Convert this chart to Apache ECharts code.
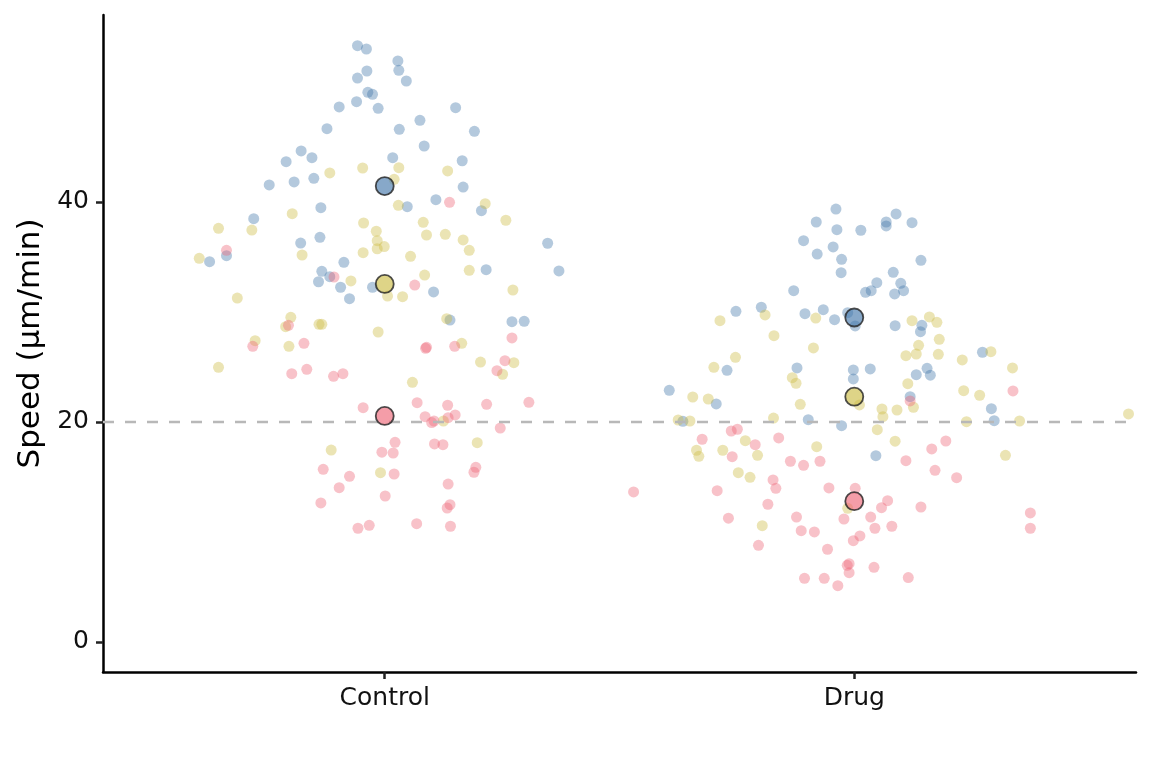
<!DOCTYPE html>
<html>
<head>
<meta charset="utf-8">
<script src="https://cdn.jsdelivr.net/npm/echarts@6/dist/echarts.min.js"></script>
<style>html,body{margin:0;padding:0;background:#fff}#c{width:1152px;height:768px}</style>
</head>
<body>
<div id="c"></div>
<script>
const categories = ['Control', 'Drug'];
const yTicks = [0, 20, 40];
const refLine = 20;

// [jittered x position, speed]
const controlBlue = [[0.942,54.21],[0.961,53.91],[0.962,51.91],[0.942,51.27],[0.964,49.97],[0.974,49.79],[0.940,49.12],[0.903,48.64],[0.986,48.52],[0.877,46.66],[0.822,44.64],[0.845,44.03],[0.790,43.66],[0.807,41.82],[0.849,42.15],[0.754,41.55],[0.864,39.48],[0.721,38.48],[0.821,36.27],[0.862,36.79],[0.663,35.12],[0.627,34.57],[0.913,34.52],[0.866,33.70],[0.883,33.21],[0.859,32.75],[0.906,32.25],[0.974,32.25],[0.925,31.21],[1.028,52.82],[1.030,51.97],[1.046,51.0],[1.151,48.57],[1.075,47.43],[1.031,46.61],[1.191,46.43],[1.084,45.09],[1.017,44.03],[1.165,43.75],[1.167,41.36],[1.048,39.57],[1.109,40.21],[1.206,39.21],[1.347,36.25],[1.371,33.73],[1.216,33.85],[1.104,31.82],[1.139,29.27],[1.271,29.12],[1.297,29.15]];
const controlYellow = [[0.953,43.09],[0.883,42.64],[0.803,38.94],[0.646,37.61],[0.717,37.45],[0.955,38.09],[0.982,37.34],[0.984,36.48],[0.984,35.75],[0.999,35.95],[0.954,35.39],[0.605,34.88],[0.824,35.18],[0.928,32.82],[1.030,43.12],[1.020,42.06],[1.134,42.82],[1.029,39.7],[1.214,39.85],[1.258,38.34],[1.082,38.15],[1.089,37.0],[1.129,37.06],[1.167,36.55],[1.180,35.61],[1.055,35.06],[1.180,33.79],[1.085,33.36],[1.273,32.0],[0.686,31.27],[0.800,29.52],[0.789,28.66],[0.860,28.88],[0.866,28.88],[0.986,28.18],[0.724,27.39],[0.796,26.88],[0.646,24.97],[0.886,17.45],[0.991,15.39],[1.006,31.45],[1.038,31.39],[1.132,29.39],[1.164,27.15],[1.204,25.45],[1.275,25.39],[1.251,24.34],[1.059,23.61],[1.125,20.09],[1.197,18.12]];
const controlRed = [[0.663,35.61],[0.892,33.18],[1.138,39.97],[1.064,32.45],[0.795,28.79],[0.719,26.88],[0.828,27.15],[0.802,24.39],[0.834,24.79],[0.891,24.15],[0.911,24.39],[0.954,21.3],[0.869,15.7],[0.925,15.06],[0.903,14.03],[0.864,12.64],[0.943,10.34],[0.967,10.61],[0.994,17.25],[1.001,13.27],[1.271,27.64],[1.087,26.7],[1.089,26.79],[1.149,26.88],[1.256,25.57],[1.239,24.66],[1.069,21.75],[1.134,21.52],[1.217,21.61],[1.307,21.79],[1.086,20.48],[1.100,19.95],[1.105,20.09],[1.135,20.39],[1.150,20.64],[1.246,19.45],[1.022,18.15],[1.018,17.18],[1.106,18.0],[1.124,17.94],[1.020,15.27],[1.194,15.88],[1.190,15.43],[1.135,14.36],[1.139,12.48],[1.133,12.18],[1.068,10.75],[1.140,10.52]];
const drugBlue = [[1.961,39.36],[1.919,38.18],[1.963,37.48],[1.892,36.48],[1.955,35.91],[1.921,35.27],[1.973,34.79],[1.972,33.57],[1.871,31.94],[1.748,30.06],[1.802,30.43],[1.895,29.85],[1.934,30.21],[1.958,29.3],[1.986,29.94],[1.729,24.7],[1.878,24.91],[1.998,24.73],[1.998,23.91],[1.606,22.88],[1.706,21.64],[1.902,20.21],[1.635,20.06],[1.973,19.66],[2.014,37.43],[2.068,38.18],[2.068,37.82],[2.089,38.91],[2.123,38.12],[2.142,34.7],[2.083,33.61],[2.048,32.66],[2.036,31.94],[2.024,31.79],[2.099,32.61],[2.105,31.94],[2.086,31.64],[2.002,28.73],[2.087,28.75],[2.144,28.79],[2.141,28.21],[2.273,26.34],[2.034,24.82],[2.155,24.88],[2.162,24.25],[2.132,24.3],[2.119,22.3],[2.292,21.21],[2.298,20.12],[2.046,16.94]];
const drugYellow = [[1.810,29.73],[1.918,29.45],[1.714,29.21],[1.829,27.85],[1.913,26.73],[1.747,25.88],[1.701,24.97],[1.868,24.03],[1.876,23.52],[1.656,22.27],[1.689,22.09],[1.885,21.61],[1.828,20.36],[1.625,20.18],[1.650,20.09],[1.768,18.3],[1.664,17.43],[1.669,16.88],[1.720,17.43],[1.794,16.97],[1.920,17.75],[1.753,15.39],[1.778,14.97],[1.804,10.57],[1.986,12.15],[2.123,29.21],[2.160,29.55],[2.176,29.06],[2.181,27.52],[2.137,26.97],[2.110,26.03],[2.132,26.18],[2.179,26.15],[2.230,25.64],[2.291,26.39],[2.337,24.91],[2.114,23.48],[2.233,22.85],[2.267,22.43],[2.126,21.34],[2.011,21.55],[2.059,21.18],[2.091,21.09],[2.061,20.48],[2.584,20.73],[2.239,20.03],[2.352,20.09],[2.049,19.3],[2.087,18.25],[2.322,16.97]];
const drugRed = [[1.676,18.43],[1.738,19.18],[1.751,19.34],[1.789,17.94],[1.839,18.55],[1.740,16.85],[1.864,16.43],[1.892,16.06],[1.927,16.43],[1.827,14.73],[1.833,13.97],[1.530,13.64],[1.708,13.75],[1.946,14.0],[1.816,12.52],[1.732,11.25],[1.877,11.36],[1.978,11.18],[1.887,10.12],[1.915,10.0],[1.796,8.79],[1.943,8.43],[1.998,9.21],[1.985,6.97],[1.989,7.12],[1.989,6.3],[1.894,5.79],[1.936,5.79],[1.965,5.12],[2.002,13.97],[2.338,22.82],[2.119,21.91],[2.195,18.27],[2.165,17.55],[2.110,16.48],[2.172,15.61],[2.218,14.94],[2.071,12.85],[2.058,12.21],[2.142,12.27],[2.035,11.36],[2.375,11.73],[2.375,10.34],[2.080,10.52],[2.044,10.34],[2.012,9.64],[2.042,6.79],[2.115,5.85]];
// replicate means: [category position, mean speed]
const meanBlue = [[1, 41.45], [2, 29.5]];
const meanYellow = [[1, 32.55], [2, 22.3]];
const meanRed = [[1, 20.55], [2, 12.8]];

const FONT = 'DejaVu Sans';
function pts(name, data, rgb) {
  return { name, type: 'scatter', data, symbolSize: 11, z: 2,
    itemStyle: { color: 'rgba(' + rgb + ',0.5)', borderWidth: 0 }, emphasis: { disabled: true } };
}
function means(name, data, rgb) {
  return { name, type: 'scatter', data, symbolSize: 18, z: 5,
    itemStyle: { color: 'rgba(' + rgb + ',0.8)', borderColor: '#222', borderWidth: 1.8 }, emphasis: { disabled: true } };
}
const BLUE = '68,119,170', YEL = '204,187,68', RED = '238,102,119';

const chart = echarts.init(document.getElementById('c'), null, { renderer: 'canvas' });
chart.setOption({
  animation: false,
  backgroundColor: '#fff',
  grid: { left: 103, right: 16, top: 15, bottom: 96, containLabel: false },
  xAxis: {
    type: 'value', min: 0.4, max: 2.6,
    splitLine: { show: false },
    axisLine: { show: true, onZero: false, lineStyle: { color: '#000', width: 2.5 } },
    axisTick: { show: true, customValues: [1, 2], length: 7, lineStyle: { color: '#222', width: 2.5 } },
    axisLabel: { customValues: [1, 2], margin: 14, fontSize: 25, fontFamily: FONT, color: '#111',
      formatter: v => categories[Math.round(v) - 1] }
  },
  yAxis: {
    type: 'value', min: -2.73, max: 57,
    name: 'Speed (µm/min)', nameLocation: 'middle', nameGap: 55,
    nameTextStyle: { fontSize: 31, fontFamily: FONT, color: '#000' },
    splitLine: { show: false },
    axisLine: { show: true, onZero: false, lineStyle: { color: '#000', width: 2.5 } },
    axisTick: { show: true, customValues: yTicks, length: 7, lineStyle: { color: '#222', width: 2.5 } },
    axisLabel: { customValues: yTicks, margin: 14, fontSize: 25, fontFamily: FONT, color: '#111' }
  },
  series: [
    Object.assign(pts('blue', controlBlue.concat(drugBlue), BLUE), {
      markLine: { silent: true, symbol: 'none', label: { show: false },
        lineStyle: { color: '#b8b8b8', width: 2.4, type: [11, 11] },
        data: [{ yAxis: refLine }] }
    }),
    pts('yellow', controlYellow.concat(drugYellow), YEL),
    pts('red', controlRed.concat(drugRed), RED),
    means('meanBlue', meanBlue, BLUE),
    means('meanYellow', meanYellow, YEL),
    means('meanRed', meanRed, RED)
  ]
});
</script>
</body>
</html>
